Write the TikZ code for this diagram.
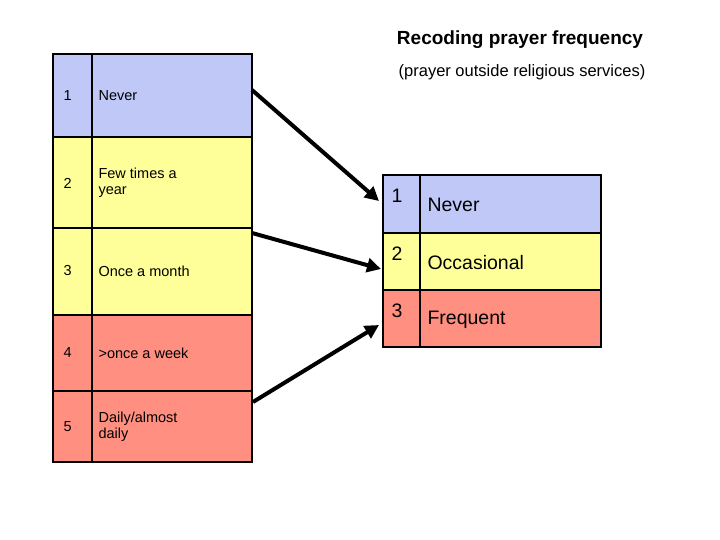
\documentclass[tikz,border=0pt]{standalone}
\usepackage{fontspec}
\setmainfont{Liberation Sans}
\usetikzlibrary{arrows.meta}
\definecolor{cblue}{HTML}{C0C8F8}
\definecolor{cyel}{HTML}{FFFF99}
\definecolor{cred}{HTML}{FF8F80}
\begin{document}
\begin{tikzpicture}[x=1pt,y=-1pt,
  cell/.style={draw=black,line width=1.5pt},
  ltxt/.style={anchor=west,font=\fontsize{14.5}{16}\selectfont,align=left},
  rtxt/.style={anchor=west,font=\fontsize{19.5}{22}\selectfont},
  arr/.style={line width=4pt,-{Triangle[length=14pt,width=14pt]}}]
\useasboundingbox (0,0) rectangle (720,540);
% left table
\fill[cblue] (53,54) rectangle (252,137);
\fill[cyel] (53,137) rectangle (252,315);
\fill[cred] (53,315) rectangle (252,462);
\draw[cell] (53,54) rectangle (252,462);
\foreach \y in {137,228,315,391} \draw[cell] (53,\y) -- (252,\y);
\draw[cell] (92,54) -- (92,462);
\node[ltxt] (n1) at (60,96) {1};
\node[ltxt] (t1) at (95,96) {Never};
\node[ltxt] (n2) at (60,183) {2};
\node[ltxt] (t2) at (95,183) {Few times a\\year};
\node[ltxt] (n3) at (60,271) {3};
\node[ltxt] (t3) at (95,271) {Once a month};
\node[ltxt] (n4) at (60,353) {4};
\node[ltxt] (t4) at (95,353) {>once a week};
\node[ltxt] (n5) at (60,427) {5};
\node[ltxt] (t5) at (95,427) {Daily/almost\\daily};
% right table
\fill[cblue] (383,175) rectangle (601,233);
\fill[cyel] (383,233) rectangle (601,290);
\fill[cred] (383,290) rectangle (601,347);
\draw[cell] (383,175) rectangle (601,347);
\foreach \y in {233,290} \draw[cell] (383,\y) -- (601,\y);
\draw[cell] (420,175) -- (420,347);
\node[rtxt] (m1) at (388,196) {1};
\node[rtxt] (r1) at (424,205) {Never};
\node[rtxt] (m2) at (388,254) {2};
\node[rtxt] (r2) at (424,263) {Occasional};
\node[rtxt] (m3) at (388,311) {3};
\node[rtxt] (r3) at (424,320) {Frequent};
% title
\node[font=\bfseries\fontsize{19}{22}\selectfont] (title) at (520,40) {Recoding prayer frequency};
\node[font=\fontsize{16.5}{20}\selectfont] (sub) at (522,72) {(prayer outside religious services)};
% arrows
\coordinate (a1) at (252,90); \coordinate (b1) at (379,201);
\coordinate (a2) at (252,233); \coordinate (b2) at (381,269);
\coordinate (a3) at (253,402); \coordinate (b3) at (379,325);
\draw[arr] (a1) -- (b1);
\draw[arr] (a2) -- (b2);
\draw[arr] (a3) -- (b3);
\end{tikzpicture}
\end{document}
